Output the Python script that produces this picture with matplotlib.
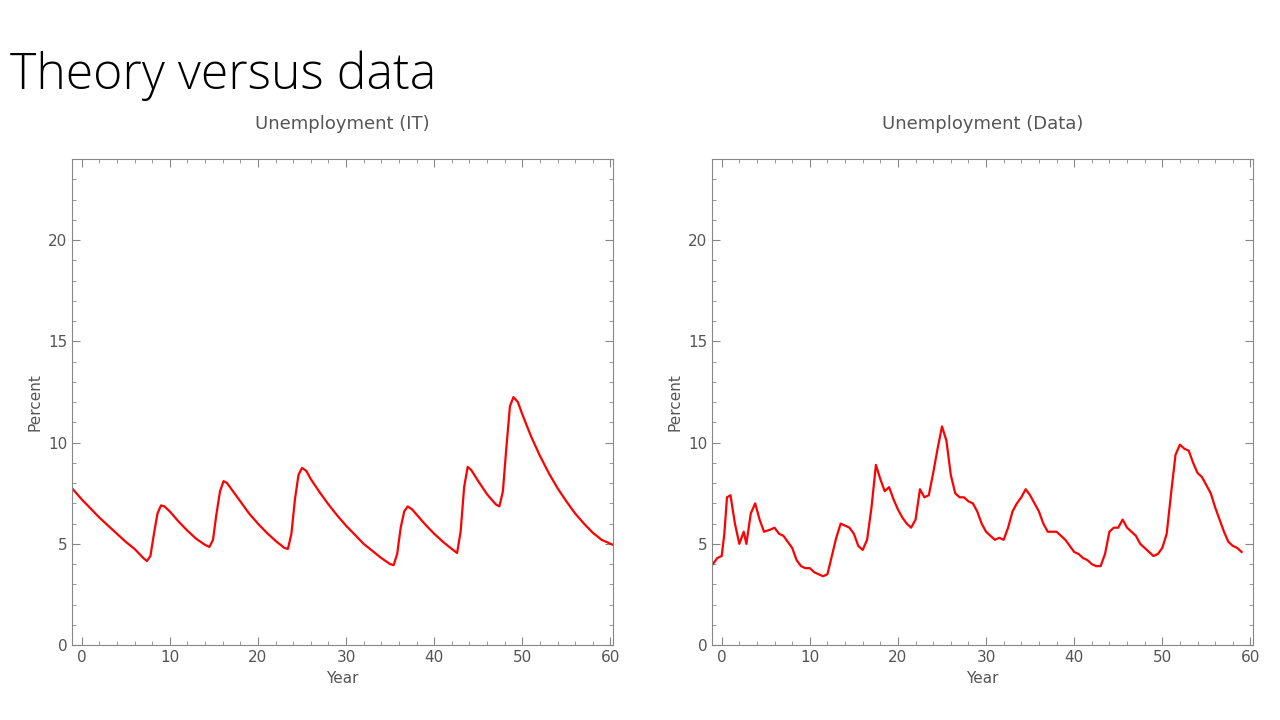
import numpy as np
import matplotlib.pyplot as plt
from matplotlib.ticker import MultipleLocator

# theory (IT) series
it_year = [-1, 0, 1, 2, 3, 4, 5, 6, 7, 7.4, 7.8, 8.2, 8.6, 9, 9.4,
           10, 11, 12, 13, 14, 14.5, 14.9, 15.3, 15.7, 16.1, 16.5, 17, 18, 19,
           20, 21, 22, 23, 23.4, 23.8, 24.2, 24.6, 25, 25.5, 26, 27, 28, 29,
           30, 31, 32, 33, 34, 35, 35.4, 35.8, 36.2, 36.6, 37, 37.5, 38, 39,
           40, 41, 42, 42.6, 43, 43.4, 43.8, 44.2, 45, 46, 47, 47.4, 47.8,
           48.2, 48.6, 49, 49.5, 50, 51, 52, 53, 54, 55, 56, 57, 58, 59, 60.3]
it_rate = [7.7, 7.2, 6.75, 6.3, 5.9, 5.5, 5.1, 4.75, 4.3, 4.15, 4.4, 5.5, 6.5, 6.9, 6.85,
           6.6, 6.1, 5.65, 5.25, 4.95, 4.85, 5.2, 6.5, 7.6, 8.1, 8.0, 7.7, 7.1, 6.5,
           6.0, 5.55, 5.15, 4.8, 4.75, 5.5, 7.2, 8.4, 8.75, 8.6, 8.2, 7.55, 6.95, 6.4,
           5.9, 5.45, 5.0, 4.65, 4.3, 4.0, 3.95, 4.5, 5.8, 6.6, 6.85, 6.7, 6.45, 5.95,
           5.5, 5.1, 4.75, 4.55, 5.6, 7.8, 8.8, 8.65, 8.1, 7.45, 6.95, 6.85, 7.6,
           9.8, 11.8, 12.25, 12.0, 11.4, 10.3, 9.35, 8.5, 7.75, 7.1, 6.5, 6.0, 5.55, 5.2, 4.95]

# observed data series
data_year = [-1, -0.5, 0, 0.3, 0.6, 1, 1.5, 2, 2.5, 2.8, 3.3, 3.8, 4.3, 4.8, 5.5,
             6, 6.5, 7, 7.5, 8, 8.5, 9, 9.5, 10, 10.5, 11, 11.5, 12, 12.5, 13,
             13.5, 14, 14.5, 15, 15.5, 16, 16.5, 17, 17.5, 18, 18.5, 19, 19.5, 20,
             20.5, 21, 21.5, 22, 22.5, 23, 23.5, 24, 24.5, 25, 25.5, 26, 26.5, 27,
             27.5, 28, 28.5, 29, 29.5, 30, 30.5, 31, 31.5, 32, 32.5, 33, 33.5, 34,
             34.5, 35, 35.5, 36, 36.5, 37, 37.5, 38, 38.5, 39, 39.5, 40, 40.5, 41,
             41.5, 42, 42.5, 43, 43.5, 44, 44.5, 45, 45.5, 46, 46.5, 47, 47.5, 48,
             48.5, 49, 49.5, 50, 50.5, 51, 51.5, 52, 52.5, 53, 53.5, 54, 54.5, 55,
             55.5, 56, 56.5, 57, 57.5, 58, 58.5, 59]
data_rate = [4.0, 4.3, 4.4, 5.5, 7.3, 7.4, 6.0, 5.0, 5.6, 5.0, 6.5, 7.0, 6.2, 5.6, 5.7,
             5.8, 5.5, 5.4, 5.1, 4.8, 4.2, 3.9, 3.8, 3.8, 3.6, 3.5, 3.4, 3.5, 4.4, 5.3,
             6.0, 5.9, 5.8, 5.5, 4.9, 4.7, 5.2, 6.8, 8.9, 8.2, 7.6, 7.8, 7.2, 6.7,
             6.3, 6.0, 5.8, 6.2, 7.7, 7.3, 7.4, 8.5, 9.7, 10.8, 10.1, 8.4, 7.5, 7.3,
             7.3, 7.1, 7.0, 6.6, 6.0, 5.6, 5.4, 5.2, 5.3, 5.2, 5.8, 6.6, 7.0, 7.3,
             7.7, 7.4, 7.0, 6.6, 6.0, 5.6, 5.6, 5.6, 5.4, 5.2, 4.9, 4.6, 4.5, 4.3,
             4.2, 4.0, 3.9, 3.9, 4.5, 5.6, 5.8, 5.8, 6.2, 5.8, 5.6, 5.4, 5.0, 4.8,
             4.6, 4.4, 4.5, 4.8, 5.5, 7.5, 9.4, 9.9, 9.7, 9.6, 9.0, 8.5, 8.3, 7.9,
             7.5, 6.8, 6.2, 5.6, 5.1, 4.9, 4.8, 4.6]

grey = '#555555'
fig = plt.figure(figsize=(12.8, 7.2), dpi=100)
fig.text(0.008, 0.877, 'Theory versus data', fontsize=36, family='Open Sans',
         fontweight='light', color='black')

panels = [(0.05625, it_year, it_rate, 'Unemployment (IT)'),
          (0.55625, data_year, data_rate, 'Unemployment (Data)')]
for left, xs, ys, title in panels:
    ax = fig.add_axes([left, 0.104, 0.4227, 0.675])
    ax.plot(xs, ys, color='red', lw=1.6)
    ax.set_xlim(-1.1, 60.3)
    ax.set_ylim(0, 24)
    ax.xaxis.set_major_locator(MultipleLocator(10))
    ax.xaxis.set_minor_locator(MultipleLocator(2))
    ax.yaxis.set_major_locator(MultipleLocator(5))
    ax.yaxis.set_minor_locator(MultipleLocator(1))
    ax.tick_params(which='both', direction='in', top=True, right=True,
                   colors='#888888', labelcolor=grey, labelsize=11)
    ax.tick_params(which='major', length=6)
    ax.tick_params(which='minor', length=3)
    for s in ax.spines.values():
        s.set_color('#888888')
    ax.set_xlabel('Year', color=grey, fontsize=11)
    ax.set_ylabel('Percent', color=grey, fontsize=11)
    ax.set_title(title, color=grey, fontsize=13, pad=22)

fig.savefig('out.png', dpi=100)
